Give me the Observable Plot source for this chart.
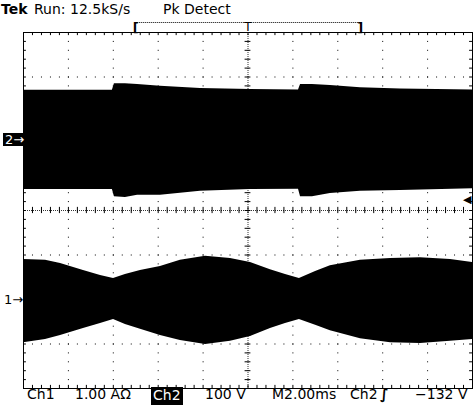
<!DOCTYPE html>
<html><head><meta charset="utf-8">
<script src="https://cdn.jsdelivr.net/npm/d3@7"></script>
<script src="https://cdn.jsdelivr.net/npm/@observablehq/plot@0.6"></script>
<style>
body{margin:0;background:#fff}
#wrap{position:relative;width:474px;height:405px;overflow:hidden;font-family:"DejaVu Sans",sans-serif;color:#000}
#wrap .t{position:absolute;font-size:14px;line-height:14px;white-space:pre}
#wrap .m{position:absolute;font-size:13px;line-height:13px;white-space:pre;z-index:2}
#chart{position:absolute;left:0;top:0;z-index:1}
.inv{background:#000;color:#fff}
</style></head><body>
<div id="wrap">
<div id="chart"></div>
<span class="t" style="left:1px;top:2px;font-weight:bold">Tek</span>
<span class="t" style="left:34px;top:2px">Run: 12.5kS/s</span>
<span class="t" style="left:163px;top:2px">Pk Detect</span>
<span class="m inv" style="left:3px;top:133px;padding:0 1px 0 2px">2→</span>
<span class="m" style="left:4px;top:293px">1→</span>
<span class="t" style="left:27px;top:387px">Ch1</span>
<span class="t" style="left:75px;top:387px">1.00 AΩ</span>
<span class="t inv" style="left:151px;top:387px;padding:1px 2px 3px 2px">Ch2</span>
<span class="t" style="left:205px;top:387px">100 V</span>
<span class="t" style="left:272px;top:387px">M2.00ms</span>
<span class="t" style="left:350px;top:387px">Ch2</span>
<span class="t" style="left:380px;top:387px;font-weight:bold">∫</span>
<span class="t" style="left:415px;top:387px">−132 V</span>
</div>
<script>
// Horizontal: time in ms (10 div x 2.00 ms). Vertical: screen divisions (-4..4).
// Channel 2 envelope (upper trace)
const ch2Time  = [0, 1.65, 3.96, 4.05, 4.54, 5.08, 6.10, 7.88, 10.11, 12.25, 12.34, 12.87, 13.67, 15.01, 16.79, 20];
const ch2Upper = [2.70, 2.70, 2.70, 2.85, 2.85, 2.83, 2.79, 2.74, 2.72, 2.71, 2.83, 2.83, 2.81, 2.76, 2.73, 2.71];
const ch2Lower = [0.47, 0.47, 0.47, 0.31, 0.29, 0.34, 0.34, 0.43, 0.47, 0.48, 0.31, 0.31, 0.38, 0.43, 0.45, 0.49];
// Channel 1 envelope (lower trace)
const ch1Time  = [0, 0.98, 1.65, 2.67, 3.43, 4.01, 4.54, 5.21, 6.10, 6.99, 8.11, 9.22, 10.11, 11.00, 11.67, 12.29, 13.01, 13.67, 15.01, 16.35, 17.68, 19.02, 20];
const ch1Upper = [-1.10, -1.12, -1.19, -1.35, -1.46, -1.53, -1.44, -1.35, -1.26, -1.12, -1.03, -1.08, -1.17, -1.33, -1.44, -1.53, -1.37, -1.24, -1.12, -1.08, -1.06, -1.10, -1.17];
const ch1Lower = [-2.97, -2.90, -2.81, -2.65, -2.54, -2.45, -2.56, -2.67, -2.81, -2.92, -3.01, -2.94, -2.83, -2.65, -2.54, -2.45, -2.58, -2.70, -2.88, -2.97, -2.99, -2.94, -2.90];
// Graticule
const majorTime = [2, 4, 6, 8, 12, 14, 16, 18];
const majorDiv = [-3, -2, -1, 1, 2, 3];
const minorTime = d3.range(0, 20.001, 0.4);
const minorDiv = d3.range(-4, 4.001, 0.2);
const trigLevel = [0.25];
const recordWindow = [5, 15];
const trigPos = [10];

const ch2 = ch2Time.map((t, i) => ({t, hi: ch2Upper[i], lo: ch2Lower[i]}));
const ch1 = ch1Time.map((t, i) => ({t, hi: ch1Upper[i], lo: ch1Lower[i]}));

const chart = Plot.plot({
  width: 474, height: 405,
  marginTop: 32, marginBottom: 17, marginLeft: 23, marginRight: 2,
  x: {domain: [0, 20], axis: null},
  y: {domain: [-4, 4], axis: null},
  style: {background: "transparent", fontFamily: "DejaVu Sans"},
  marks: [
    Plot.ruleX(majorTime, {stroke: "#000", strokeDasharray: "1 7.9"}),
    Plot.ruleY(majorDiv, {stroke: "#000", strokeDasharray: "1 7.98"}),
    Plot.ruleX(trigPos, {stroke: "#333", strokeDasharray: "1 1"}),
    Plot.ruleY([0], {stroke: "#333", strokeDasharray: "1 1"}),
    Plot.ruleX(minorTime, {y1: -0.07, y2: 0.07, stroke: "#000"}),
    Plot.ruleY(minorDiv, {x1: 9.87, x2: 10.13, stroke: "#000"}),
    Plot.ruleX(minorTime, {y1: 4, y2: 3.93, stroke: "#000"}),
    Plot.ruleX(minorTime, {y1: -4, y2: -3.93, stroke: "#000"}),
    Plot.ruleY(minorDiv, {x1: 0, x2: 0.13, stroke: "#000"}),
    Plot.ruleY(minorDiv, {x1: 20, x2: 19.87, stroke: "#000"}),
    Plot.areaY(ch2, {x: "t", y1: "lo", y2: "hi", fill: "#000"}),
    Plot.areaY(ch1, {x: "t", y1: "lo", y2: "hi", fill: "#000"}),
    Plot.frame({stroke: "#000"}),
    Plot.text(trigLevel, {x: 20, y: d => d, text: () => "◀", textAnchor: "end", dx: -1, fontSize: 11, fill: "#000"}),
    Plot.ruleY([4], {x1: recordWindow[0], x2: recordWindow[1], dy: -10, stroke: "#000", strokeDasharray: "1 1"}),
    Plot.text(["[", "]"], {x: (d, i) => recordWindow[i], frameAnchor: "top", dy: -10, fontSize: 13, fontWeight: "bold", fill: "#000"}),
    Plot.text(trigPos, {x: d => d, text: () => "T", frameAnchor: "top", dy: -10, fontSize: 12, fill: "#000"})
  ]
});
document.getElementById("chart").appendChild(chart);
</script>
</body></html>
